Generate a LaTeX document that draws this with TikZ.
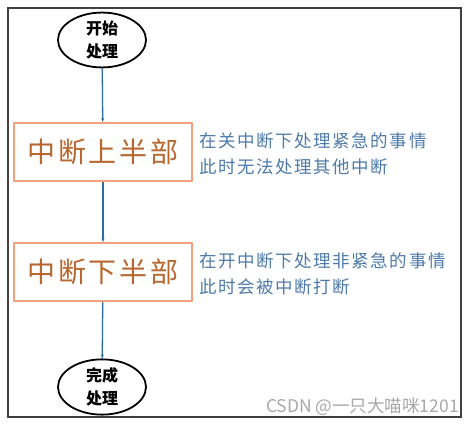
\documentclass[tikz,border=0pt]{standalone}
\usepackage{fontspec}
\setmainfont{Noto Sans CJK SC}
\newfontfamily\cjkbig[LetterSpace=10]{Noto Sans CJK SC}
\newfontfamily\cjknote[LetterSpace=9]{Noto Sans CJK SC}
\usetikzlibrary{arrows.meta,shapes.geometric}
\definecolor{frameC}{HTML}{404040}
\definecolor{boxC}{HTML}{F2A27E}
\definecolor{boxT}{HTML}{B8682F}
\definecolor{noteT}{HTML}{4E7BAA}
\definecolor{lineC}{HTML}{2C6DA4}
\definecolor{wmC}{HTML}{A8A8A8}
\tikzset{
  term/.style={ellipse, draw=black, line width=1.8pt, minimum width=88pt, minimum height=54pt, inner sep=0pt, align=center, font=\fontsize{16}{23.5}\selectfont\bfseries},
  halfbox/.style={rectangle, draw=boxC, line width=2pt, minimum width=178pt, minimum height=58pt, inner sep=0pt, text=boxT, font=\cjkbig\fontsize{28}{30}\selectfont},
  note/.style={anchor=west, align=left, text=noteT, inner sep=0pt, font=\cjknote\fontsize{17.5}{25.5}\selectfont},
  flow/.style={draw=lineC, line width=1.3pt, -{Stealth[length=4pt,width=3pt]}}
}
\begin{document}
\begin{tikzpicture}[x=1pt,y=-1pt]
\useasboundingbox (0,0) rectangle (474,425);
\fill[white] (0,0) rectangle (474,425);
\draw[frameC, line width=1.5pt] (8,8) rectangle (461,417);
\node[term] (start) at (102,40) {开始\\处理};
\node[halfbox] (top) at (103,152) {中断上半部};
\node[halfbox] (bot) at (103,272) {中断下半部};
\node[term, minimum height=50pt] (end) at (102,387) {完成\\处理};
\node[note] (n1) at (199,154) {在关中断下处理紧急的事情\\此时无法处理其他中断};
\node[note] (n2) at (199,274) {在开中断下处理非紧急的事情\\此时会被中断打断};
\node[anchor=east, text=wmC, inner sep=0pt, font=\fontsize{17.5}{19}\selectfont] (wm) at (459,407) {CSDN @一只大喵咪1201};
\draw[flow] (start) -- (top);
\draw[flow] (top) -- (bot);
\draw[flow] (bot) -- (end);
\end{tikzpicture}
\end{document}
